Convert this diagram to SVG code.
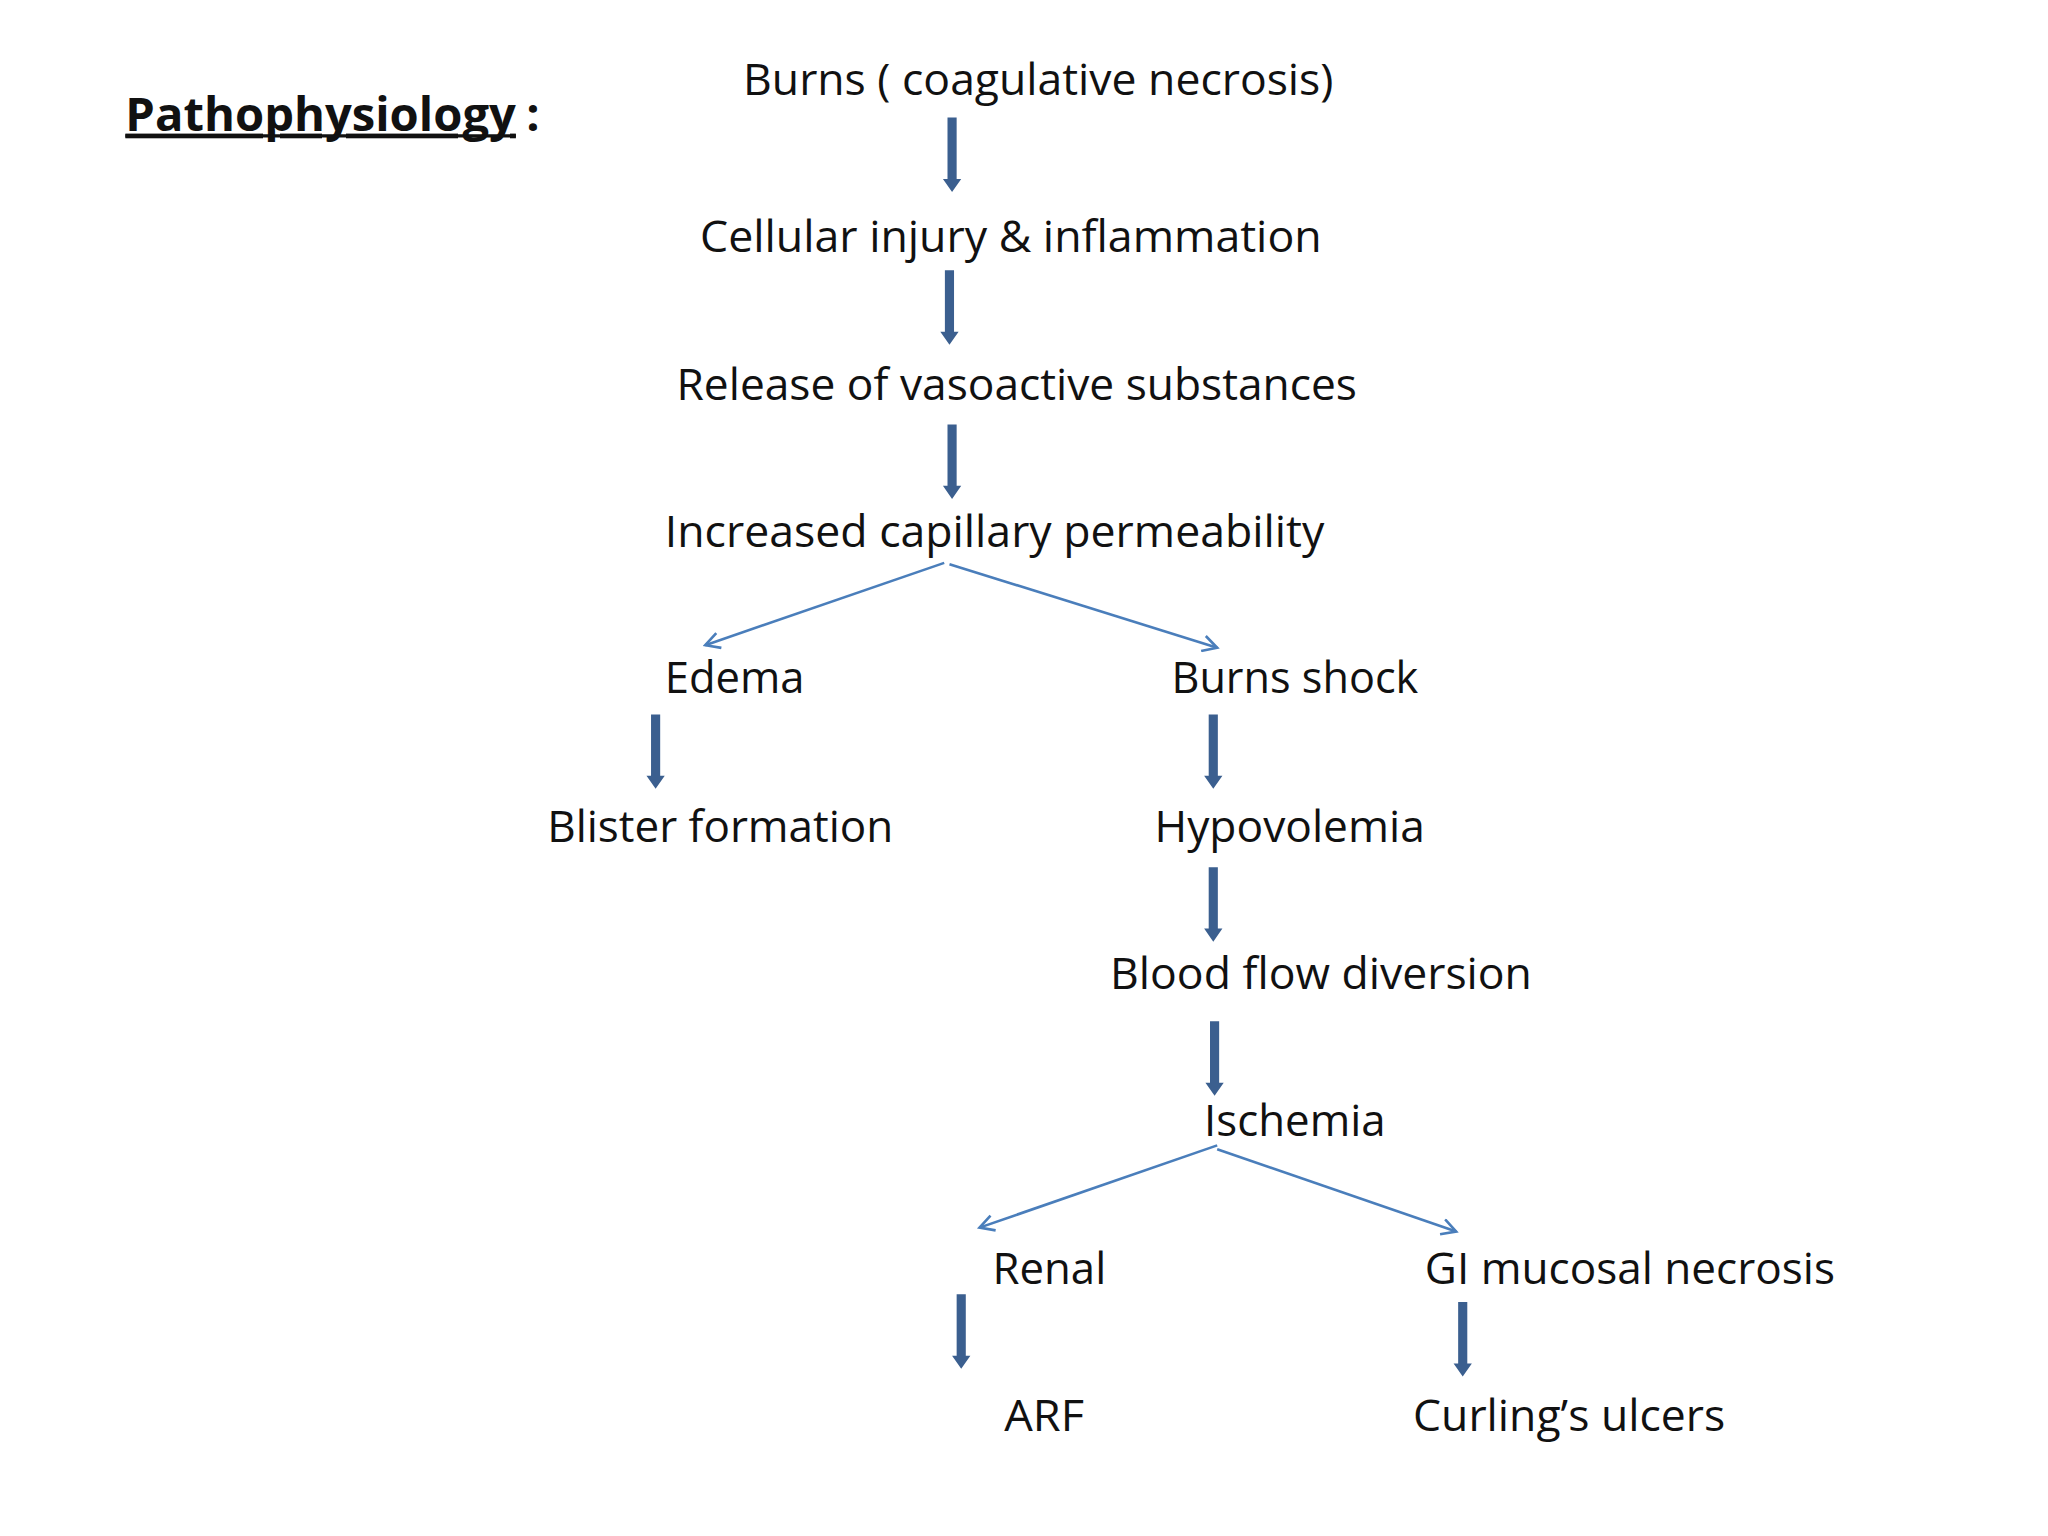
<svg xmlns="http://www.w3.org/2000/svg" width="2048" height="1536" viewBox="0 0 2048 1536">
<style>
.t{font-family:"Open Sans","Liberation Sans",sans-serif;font-size:33px;fill:#111}
.h{font-family:"Open Sans","Liberation Sans",sans-serif;font-size:36px;font-weight:bold;fill:#111}
.thin{stroke:#4a7ebb;stroke-width:2;fill:none}
.thick{fill:#3b5f8f}
</style>
<defs>
<marker id="v" viewBox="0 0 14 14" refX="12" refY="7" markerWidth="14" markerHeight="14" markerUnits="userSpaceOnUse" orient="auto"><path d="M1,1 L12,7 L1,13" fill="none" stroke="#4a7ebb" stroke-width="2"/></marker>
<path id="ta" d="M-3.5,0 H3.5 V47 H7 L0,57 L-7,47 H-3.5 Z"/>
</defs>
<rect width="2048" height="1536" fill="#fff"/>
<g transform="scale(1.306)">
<g id="title"><text class="h" x="96" y="100" textLength="299" lengthAdjust="spacingAndGlyphs" text-decoration="underline">Pathophysiology</text><text class="h" x="403" y="100">:</text><line x1="96" y1="104" x2="395" y2="104" stroke="#111" stroke-width="2.5"/></g>
<g id="n1"><text class="t" x="569" y="73" textLength="452" lengthAdjust="spacingAndGlyphs">Burns ( coagulative necrosis)</text></g>
<g id="n2"><text class="t" x="536" y="193" textLength="476" lengthAdjust="spacingAndGlyphs">Cellular injury &amp; inflammation</text></g>
<g id="n3"><text class="t" x="518" y="306" textLength="521" lengthAdjust="spacingAndGlyphs">Release of vasoactive substances</text></g>
<g id="n4"><text class="t" x="509" y="419" textLength="505" lengthAdjust="spacingAndGlyphs">Increased capillary permeability</text></g>
<g id="n5"><text class="t" x="509" y="531" textLength="107" lengthAdjust="spacingAndGlyphs">Edema</text></g>
<g id="n6"><text class="t" x="897" y="531" textLength="189" lengthAdjust="spacingAndGlyphs">Burns shock</text></g>
<g id="n7"><text class="t" x="419" y="645" textLength="265" lengthAdjust="spacingAndGlyphs">Blister formation</text></g>
<g id="n8"><text class="t" x="884" y="645" textLength="207" lengthAdjust="spacingAndGlyphs">Hypovolemia</text></g>
<g id="n9"><text class="t" x="850" y="757" textLength="323" lengthAdjust="spacingAndGlyphs">Blood flow diversion</text></g>
<g id="n10"><text class="t" x="922" y="870" textLength="139" lengthAdjust="spacingAndGlyphs">Ischemia</text></g>
<g id="n11"><text class="t" x="760" y="983" textLength="87" lengthAdjust="spacingAndGlyphs">Renal</text></g>
<g id="n12"><text class="t" x="1091" y="983" textLength="314" lengthAdjust="spacingAndGlyphs">GI mucosal necrosis</text></g>
<g id="n13"><text class="t" x="769" y="1096" textLength="61" lengthAdjust="spacingAndGlyphs">ARF</text></g>
<g id="n14"><text class="t" x="1082" y="1096" textLength="239" lengthAdjust="spacingAndGlyphs">Curling’s ulcers</text></g>
<g id="connectors">
<use href="#ta" class="thick" x="729" y="90"/>
<use href="#ta" class="thick" x="727" y="207"/>
<use href="#ta" class="thick" x="729" y="325"/>
<use href="#ta" class="thick" x="502" y="547"/>
<use href="#ta" class="thick" x="929" y="547"/>
<use href="#ta" class="thick" x="929" y="664"/>
<use href="#ta" class="thick" x="930" y="782"/>
<use href="#ta" class="thick" x="736" y="991"/>
<use href="#ta" class="thick" x="1120" y="997"/>
<line class="thin" x1="723" y1="431" x2="540" y2="494" marker-end="url(#v)"/>
<line class="thin" x1="727" y1="432" x2="932" y2="496" marker-end="url(#v)"/>
<line class="thin" x1="932" y1="877" x2="750" y2="940" marker-end="url(#v)"/>
<line class="thin" x1="932" y1="880" x2="1115" y2="943" marker-end="url(#v)"/>
</g>
</g>
</svg>
